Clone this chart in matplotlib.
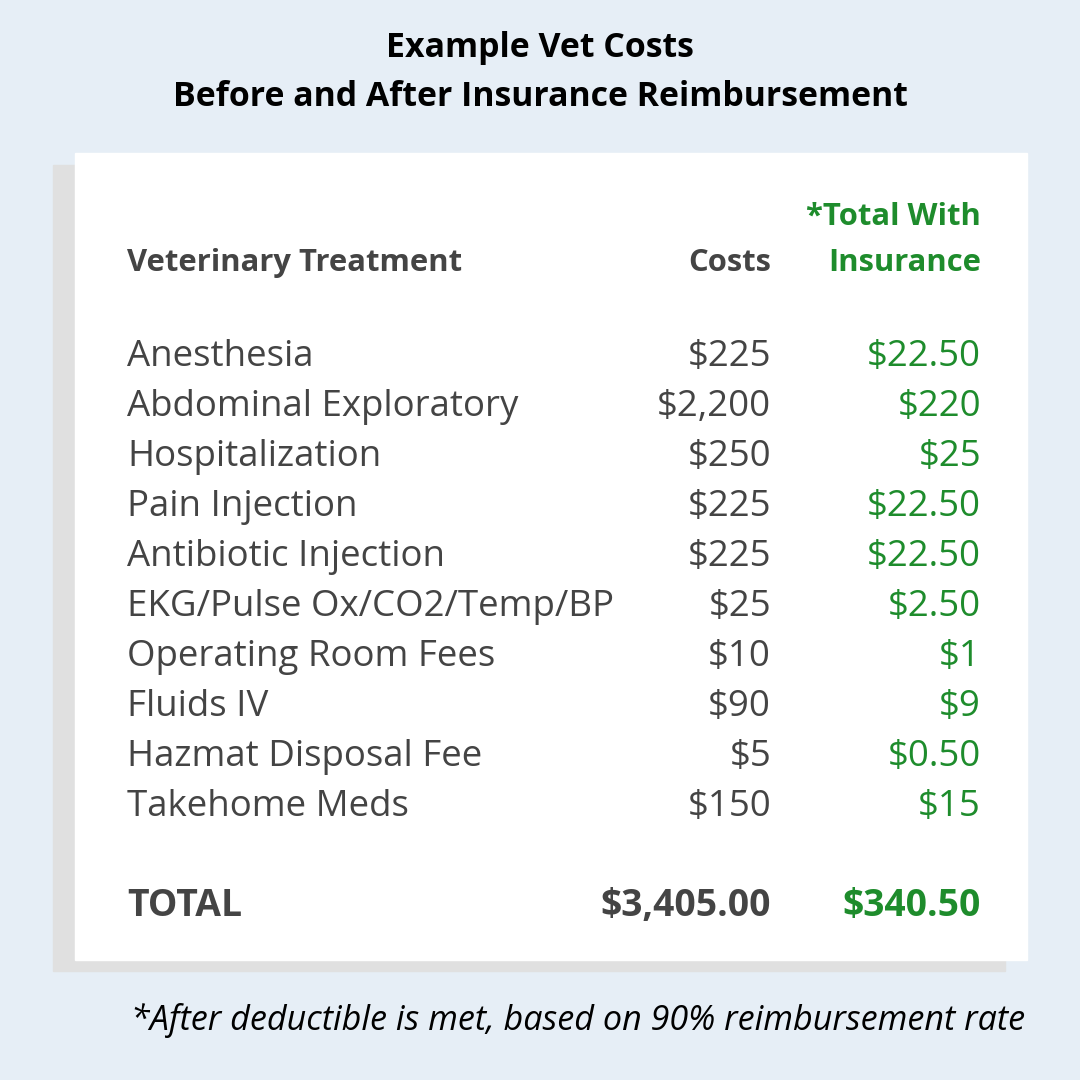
import matplotlib.pyplot as plt
from matplotlib.patches import Rectangle

treatments = ["Anesthesia", "Abdominal Exploratory", "Hospitalization", "Pain Injection",
              "Antibiotic Injection", "EKG/Pulse Ox/CO2/Temp/BP", "Operating Room Fees",
              "Fluids IV", "Hazmat Disposal Fee", "Takehome Meds"]
costs = ["$225", "$2,200", "$250", "$225", "$225", "$25", "$10", "$90", "$5", "$150"]
insured = ["$22.50", "$220", "$25", "$22.50", "$22.50", "$2.50", "$1", "$9", "$0.50", "$15"]
total_cost = "$3,405.00"
total_insured = "$340.50"

dark = "#444444"
green = "#1e8c2c"
plt.rcParams['font.family'] = ['Open Sans', 'DejaVu Sans']

fig = plt.figure(figsize=(10.8, 10.8), dpi=100)
fig.patch.set_facecolor("#e6eef6")
ax = fig.add_axes([0, 0, 1, 1])
ax.set_xlim(0, 1080)
ax.set_ylim(1080, 0)
ax.axis("off")

ax.add_patch(Rectangle((53, 165), 952, 806, color="#e0e0e0", zorder=1))
ax.add_patch(Rectangle((75, 153), 952, 807, color="white", zorder=2))

ax.text(540, 48, "Example Vet Costs", ha="center", va="center", fontsize=24.4, fontweight="bold", color="black")
ax.text(540, 97, "Before and After Insurance Reimbursement", ha="center", va="center", fontsize=24.4, fontweight="bold", color="black")

ax.text(127, 263, "Veterinary Treatment", ha="left", va="center", fontsize=22.3, fontweight="bold", color=dark, zorder=3)
ax.text(771, 263, "Costs", ha="right", va="center", fontsize=22.3, fontweight="bold", color=dark, zorder=3)
ax.text(981, 217, "*Total With", ha="right", va="center", fontsize=22.3, fontweight="bold", color=green, zorder=3)
ax.text(981, 263, "Insurance", ha="right", va="center", fontsize=22.3, fontweight="bold", color=green, zorder=3)

for i, (t, c, g) in enumerate(zip(treatments, costs, insured)):
    y = 357 + i * 50
    ax.text(127, y, t, ha="left", va="center", fontsize=26.4, color=dark, zorder=3)
    ax.text(771, y, c, ha="right", va="center", fontsize=26.4, color=dark, zorder=3)
    ax.text(981, y, g, ha="right", va="center", fontsize=26.4, color=green, zorder=3)

ax.text(127, 906, "TOTAL", ha="left", va="center", fontsize=26.8, fontweight="bold", color=dark, zorder=3)
ax.text(771, 906, total_cost, ha="right", va="center", fontsize=26.8, fontweight="bold", color=dark, zorder=3)
ax.text(981, 906, total_insured, ha="right", va="center", fontsize=26.8, fontweight="bold", color=green, zorder=3)

ax.text(1025, 1021, "*After deductible is met, based on 90% reimbursement rate", ha="right", va="center",
        fontsize=24.6, style="italic", color="black")

fig.savefig("out.png", dpi=100, facecolor=fig.get_facecolor())
